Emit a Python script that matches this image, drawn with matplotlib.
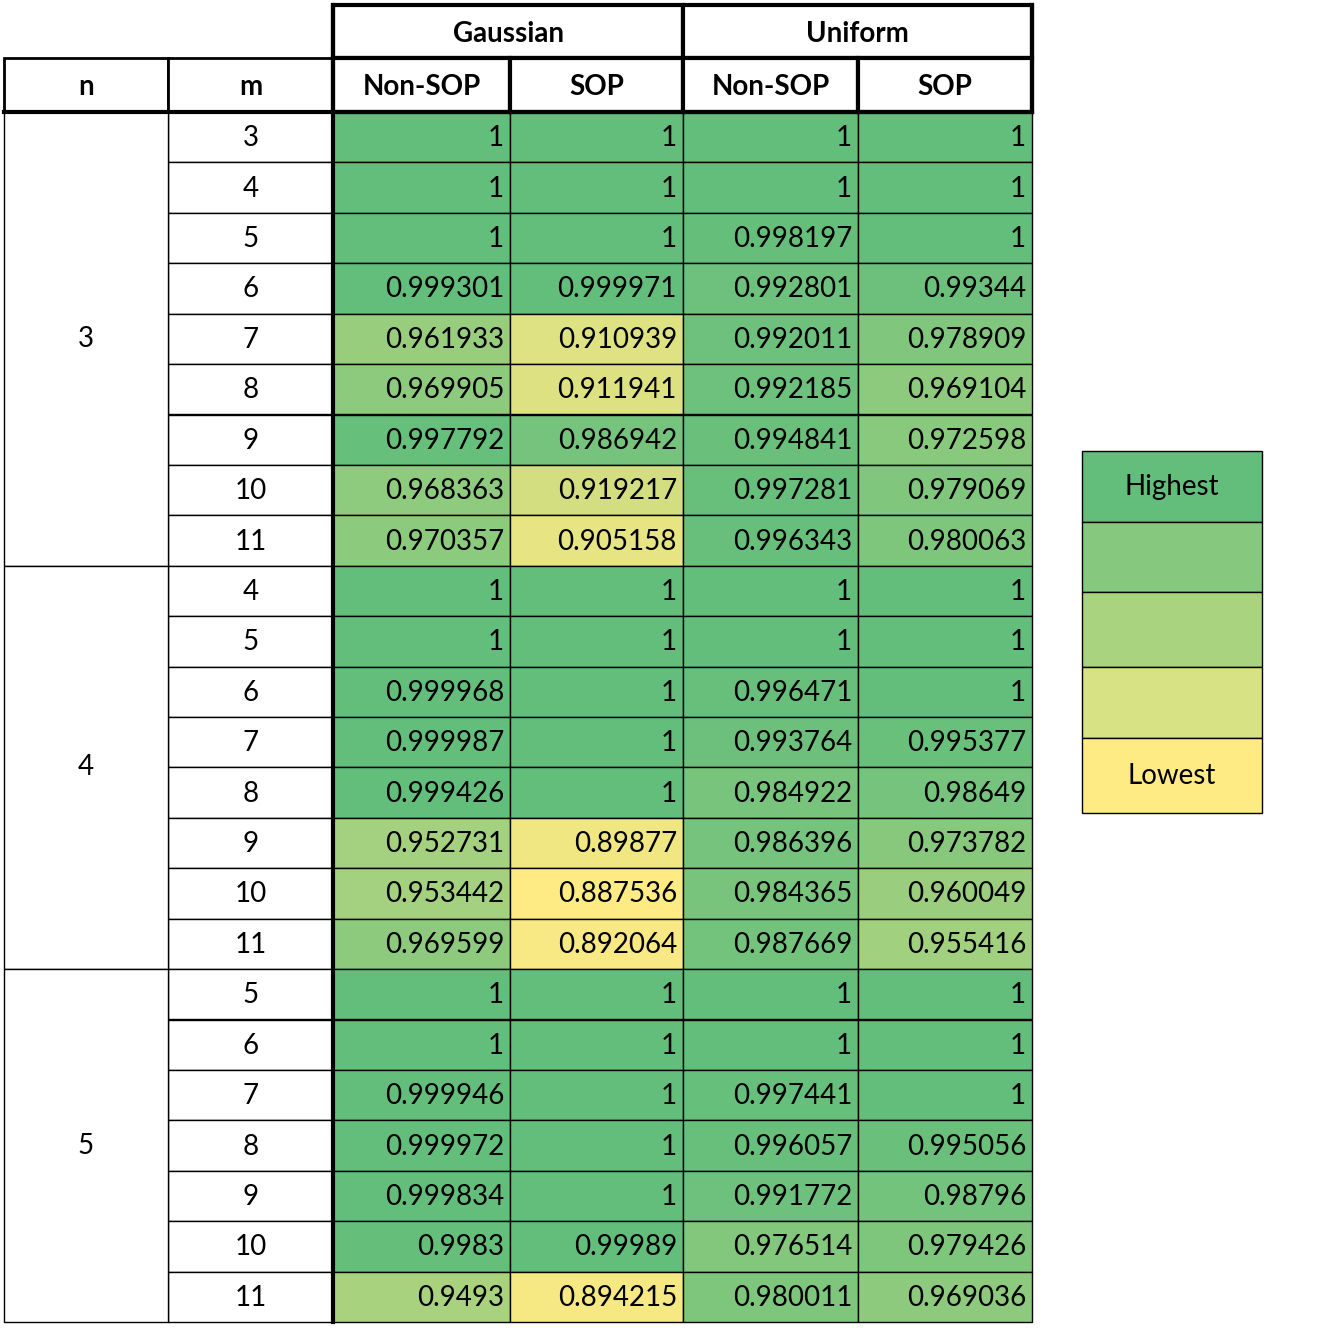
import numpy as np
import matplotlib
matplotlib.use('Agg')
import matplotlib.pyplot as plt
from matplotlib.colors import LinearSegmentedColormap
from matplotlib.patches import Rectangle

plt.rcParams['font.family'] = ['Lato', 'DejaVu Sans']

n_groups = [3, 4, 5]
m_values = [list(range(3, 12)), list(range(4, 12)), list(range(5, 12))]
col_groups = ['Gaussian', 'Uniform']
col_sub = ['Non-SOP', 'SOP', 'Non-SOP', 'SOP']

gauss_nonsop = [1, 1, 1, 0.999301, 0.961933, 0.969905, 0.997792, 0.968363, 0.970357,
                1, 1, 0.999968, 0.999987, 0.999426, 0.952731, 0.953442, 0.969599,
                1, 1, 0.999946, 0.999972, 0.999834, 0.9983, 0.9493]
gauss_sop = [1, 1, 1, 0.999971, 0.910939, 0.911941, 0.986942, 0.919217, 0.905158,
             1, 1, 1, 1, 1, 0.89877, 0.887536, 0.892064,
             1, 1, 1, 1, 1, 0.99989, 0.894215]
unif_nonsop = [1, 1, 0.998197, 0.992801, 0.992011, 0.992185, 0.994841, 0.997281, 0.996343,
               1, 1, 0.996471, 0.993764, 0.984922, 0.986396, 0.984365, 0.987669,
               1, 1, 0.997441, 0.996057, 0.991772, 0.976514, 0.980011]
unif_sop = [1, 1, 1, 0.99344, 0.978909, 0.969104, 0.972598, 0.979069, 0.980063,
            1, 1, 1, 0.995377, 0.98649, 0.973782, 0.960049, 0.955416,
            1, 1, 1, 0.995056, 0.98796, 0.979426, 0.969036]
legend_colors = ['#63BE7B', '#86C97E', '#AAD380', '#D6E283', '#FFEB84']

data = np.array([gauss_nonsop, gauss_sop, unif_nonsop, unif_sop]).T
cmap = LinearSegmentedColormap.from_list('yg', ['#FFEB84', '#63BE7B'])
vmin, vmax = data.min(), data.max()

fig = plt.figure(figsize=(13.22, 13.35), dpi=100)
ax = fig.add_axes([0, 0, 1, 1])
ax.set_xlim(0, 1322)
ax.set_ylim(1335, 0)
ax.axis('off')

col_x = [4, 168, 333, 510, 683, 858, 1032]
top0, top1, top2 = 5, 58, 112
row_h = (1322 - top2) / 24
fs = 20

# data cells
for i in range(24):
    y = top2 + i * row_h
    for j in range(4):
        x0, x1 = col_x[j + 2], col_x[j + 3]
        v = data[i, j]
        ax.add_patch(Rectangle((x0, y), x1 - x0, row_h,
                               facecolor=cmap((v - vmin) / (vmax - vmin)),
                               edgecolor='black', lw=1))
        ax.text(x1 - 6, y + row_h / 2 + 1, f'{v:g}', ha='right', va='center', fontsize=fs)

# m column
ms = [m for g in m_values for m in g]
for i, m in enumerate(ms):
    y = top2 + i * row_h
    ax.add_patch(Rectangle((col_x[1], y), col_x[2] - col_x[1], row_h,
                           facecolor='white', edgecolor='black', lw=1))
    ax.text((col_x[1] + col_x[2]) / 2, y + row_h / 2 + 1, str(m),
            ha='center', va='center', fontsize=fs)

# n column merged
start = 0
for n, g in zip(n_groups, m_values):
    y = top2 + start * row_h
    h = len(g) * row_h
    ax.add_patch(Rectangle((col_x[0], y), col_x[1] - col_x[0], h,
                           facecolor='white', edgecolor='black', lw=1))
    ax.text((col_x[0] + col_x[1]) / 2, y + h / 2, str(n), ha='center', va='center', fontsize=fs)
    start += len(g)

# headers
for j, name in enumerate(col_groups):
    x0, x1 = col_x[2 + 2 * j], col_x[4 + 2 * j]
    ax.add_patch(Rectangle((x0, top0), x1 - x0, top1 - top0, facecolor='white',
                           edgecolor='black', lw=3))
    ax.text((x0 + x1) / 2, (top0 + top1) / 2 + 2, name, ha='center', va='center',
            fontsize=fs, fontweight='bold')
for j, name in enumerate(['n', 'm'] + col_sub):
    x0, x1 = col_x[j], col_x[j + 1]
    ax.add_patch(Rectangle((x0, top1), x1 - x0, top2 - top1, facecolor='white',
                           edgecolor='black', lw=3 if j >= 2 else 2))
    ax.text((x0 + x1) / 2, (top1 + top2) / 2 + 2, name, ha='center', va='center',
            fontsize=fs, fontweight='bold')

# thick frame lines
ax.plot([col_x[2], col_x[2]], [top0, 1322], color='black', lw=3)
ax.plot([col_x[6], col_x[6]], [top0, top2], color='black', lw=3)
ax.plot([col_x[0], col_x[6]], [top2, top2], color='black', lw=3)

# legend
leg_y = [451, 522, 592, 667, 738, 813]
for k, c in enumerate(legend_colors):
    ax.add_patch(Rectangle((1082, leg_y[k]), 180, leg_y[k + 1] - leg_y[k],
                           facecolor=c, edgecolor='black', lw=1))
ax.text(1172, (leg_y[0] + leg_y[1]) / 2, 'Highest', ha='center', va='center', fontsize=fs)
ax.text(1172, (leg_y[4] + leg_y[5]) / 2, 'Lowest', ha='center', va='center', fontsize=fs)

fig.savefig('out.png', dpi=100)
